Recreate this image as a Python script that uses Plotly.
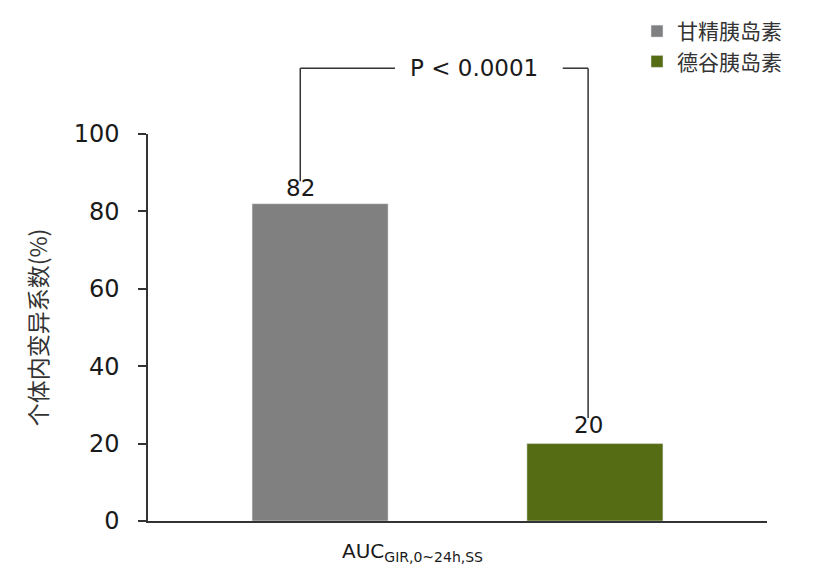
import plotly.graph_objects as go

# ---- data ----
category = ["AUC<sub>GIR,0~24h,SS</sub>"]
series_names = ["甘精胰岛素", "德谷胰岛素"]
series_values = [82, 20]
series_colors = ["#808080", "#566C14"]
p_label = "P < 0.0001"
y_ticks = [0, 20, 40, 60, 80, 100]
y_title = "个体内变异系数(%)"
Y_MAX = 100

BARGAP = 0.112
BARGROUPGAP = 0.505

fig = go.Figure()
for name, val, col in zip(series_names, series_values, series_colors):
    fig.add_trace(go.Bar(
        x=category, y=[val], name=name, marker_color=col,
        cliponaxis=False, legendgroup=name,
    ))

# bar centers on the category axis
slot = (1 - BARGAP) / 2
centers = [-slot / 2, slot / 2]


def py(v):
    """data value -> paper fraction (y range 0..Y_MAX on full domain)"""
    return v / Y_MAX


line_col = "#333333"
top = 117
xl = centers[0] - 0.032
xr = centers[1] - 0.011
yl = series_values[0] + 5.8
yr = series_values[1] + 6.6
gap_l = -0.101
gap_r = 0.170
lw = 1.5
shapes = [
    dict(type="line", xref="x", yref="paper", x0=xl, x1=xl, y0=py(yl), y1=py(top), line=dict(color=line_col, width=lw)),
    dict(type="line", xref="x", yref="paper", x0=xl, x1=gap_l, y0=py(top), y1=py(top), line=dict(color=line_col, width=lw)),
    dict(type="line", xref="x", yref="paper", x0=gap_r, x1=xr, y0=py(top), y1=py(top), line=dict(color=line_col, width=lw)),
    dict(type="line", xref="x", yref="paper", x0=xr, x1=xr, y0=py(top), y1=py(yr), line=dict(color=line_col, width=lw)),
]

annotations = [
    dict(x=(gap_l + gap_r) / 2 - 0.008, y=py(top), xref="x", yref="paper", text=p_label, showarrow=False,
         font=dict(size=23, color="#1a1a1a", family="DejaVu Sans"), xanchor="center", yanchor="middle"),
    dict(x=0.310, y=0, xref="paper", yref="paper", yshift=-31, text=category[0], showarrow=False,
         font=dict(size=20, color="#1a1a1a", family="DejaVu Sans"), xanchor="left", yanchor="middle"),
]
# value labels, placed over the bracket legs
for xv, val, ys in zip([xl, xr], series_values, [1, 4]):
    annotations.append(dict(x=xv, y=py(val), xref="x", yref="paper", text=str(val), showarrow=False,
                            font=dict(size=23, color="#1a1a1a", family="DejaVu Sans"),
                            xanchor="center", yanchor="bottom", yshift=ys))

# page body adds an 8px offset, so margins are reduced accordingly
fig.update_layout(
    width=824, height=579,
    margin=dict(l=140, r=65, t=126, b=66, autoexpand=False),
    plot_bgcolor="white", paper_bgcolor="white",
    barmode="group", bargap=BARGAP, bargroupgap=BARGROUPGAP,
    shapes=shapes, annotations=annotations,
    showlegend=True,
    legend=dict(x=0.79, y=1.318, xanchor="left", yanchor="top",
                font=dict(size=21, color="#333333", family="Noto Sans CJK SC"),
                traceorder="normal", bgcolor="rgba(0,0,0,0)"),
    font=dict(family="DejaVu Sans"),
)
fig.update_xaxes(
    range=[-0.5, 0.5], showticklabels=False, showline=True, linecolor=line_col, linewidth=lw,
    ticks="inside", tickson="boundaries", ticklen=8, tickcolor=line_col, tickwidth=lw,
    showgrid=False, zeroline=False, automargin=False,
)
fig.update_yaxes(
    range=[0, Y_MAX], tickvals=y_ticks, showline=True, linecolor=line_col, linewidth=lw,
    ticks="outside", ticklen=8, tickcolor=line_col, tickwidth=lw, ticklabelstandoff=14,
    tickfont=dict(size=24, color="#1a1a1a", family="DejaVu Sans"),
    showgrid=False, zeroline=False, automargin=False,
    title=dict(text=y_title, font=dict(size=23, color="#333333", family="Noto Sans CJK SC"), standoff=20),
)

fig.write_html("out.html")
